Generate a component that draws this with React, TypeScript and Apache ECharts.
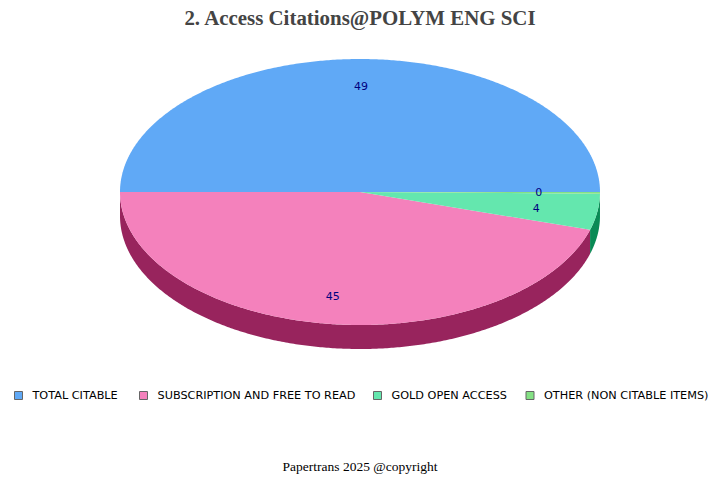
import React, { useEffect, useRef } from "react";
import * as echarts from "echarts";

const chartTitle = "2. Access Citations@POLYM ENG SCI";
const footerText = "Papertrans 2025 @copyright";
const categories = ["TOTAL CITABLE", "SUBSCRIPTION AND FREE TO READ", "GOLD OPEN ACCESS", "OTHER (NON CITABLE ITEMS)"];
const values = [49, 44.5, 4.3, 0.2];
const topColors = ["#60A9F6", "#F481BC", "#64E7AE", "#84E184"];
const wallColors = ["#2A6DB5", "#98245D", "#0A8A55", "#2F9A2F"];
const labelRadii = [0.79, 0.79, 0.743, 0.745];
const labelShiftX = [1, 0, 0, 0];
const labelShiftY = [0, 1, 2, 0];
const legendLefts = [14, 139, 373, 525.5];

const CX = 360;
const CY = 192;
const RX = 240;
const RY = 133;
const DEPTH = 24;
const total = values.reduce((a, b) => a + b, 0);

function rim(a0: number, a1: number, dy: number) {
  const pts: number[][] = [];
  const steps = Math.max(2, Math.ceil(((a1 - a0) * 180) / Math.PI / 0.5));
  for (let i = 0; i <= steps; i++) {
    const a = a0 + ((a1 - a0) * i) / steps;
    pts.push([CX + RX * Math.cos(a), CY - RY * Math.sin(a) + dy]);
  }
  return pts;
}

function makeRenderItem(index: number) {
  const before = values.slice(0, index).reduce((a, b) => a + b, 0);
  const a0 = (before / total) * Math.PI * 2;
  const a1 = ((before + values[index]) / total) * Math.PI * 2;
  const mid = (a0 + a1) / 2;
  return () => {
    const children: any[] = [];
    const wa0 = Math.max(a0, Math.PI);
    if (a1 > Math.PI) {
      const lower = rim(wa0, a1, 0);
      const upper = rim(wa0, a1, DEPTH).reverse();
      children.push({
        type: "polygon",
        shape: { points: lower.concat(upper) },
        style: { fill: wallColors[index] },
      });
    }
    children.push({
      type: "polygon",
      shape: { points: [[CX, CY], ...rim(a0, a1, 0)] },
      style: { fill: topColors[index] },
    });
    children.push({
      type: "text",
      style: {
        text: String(Math.round(values[index])),
        x: CX + RX * labelRadii[index] * Math.cos(mid) + labelShiftX[index],
        y: CY - RY * labelRadii[index] * Math.sin(mid) + labelShiftY[index],
        fill: "#000080",
        font: '11px "DejaVu Sans"',
        align: "center",
        verticalAlign: "middle",
      },
    });
    return { type: "group", children };
  };
}

export default function App() {
  const ref = useRef<HTMLDivElement>(null);
  useEffect(() => {
    const chart = echarts.init(ref.current!, undefined, { renderer: "svg" });
    chart.setOption({
      animation: false,
      backgroundColor: "#ffffff",
      title: [
        {
          text: chartTitle,
          left: "center",
          top: 2,
          textStyle: { fontFamily: "Liberation Serif", fontSize: 20.9, fontWeight: "bold", color: "#444444" },
        },
        {
          text: footerText,
          left: "center",
          top: 454,
          textStyle: { fontFamily: "Liberation Serif", fontSize: 13.5, fontWeight: "normal", color: "#000000" },
        },
      ],
      legend: categories.map((name, i) => ({
        left: legendLefts[i],
        top: 390,
        orient: "horizontal",
        icon: "rect",
        itemWidth: 8,
        itemHeight: 8,
        padding: 0,
        data: [name],
        itemStyle: { borderColor: "#666666", borderWidth: 1 },
        textStyle: { fontFamily: "DejaVu Sans", fontSize: 11.25, color: "#000000", padding: [0, 0, 0, 5] },
      })),
      series: categories.map((name, i) => ({
        type: "custom",
        name,
        coordinateSystem: "none",
        silent: true,
        itemStyle: { color: topColors[i] },
        data: [[values[i]]],
        renderItem: makeRenderItem(i),
      })),
    });
    return () => chart.dispose();
  }, []);
  return <div ref={ref} style={{ position: "fixed", left: 0, top: 0, width: 720, height: 480 }} />;
}
